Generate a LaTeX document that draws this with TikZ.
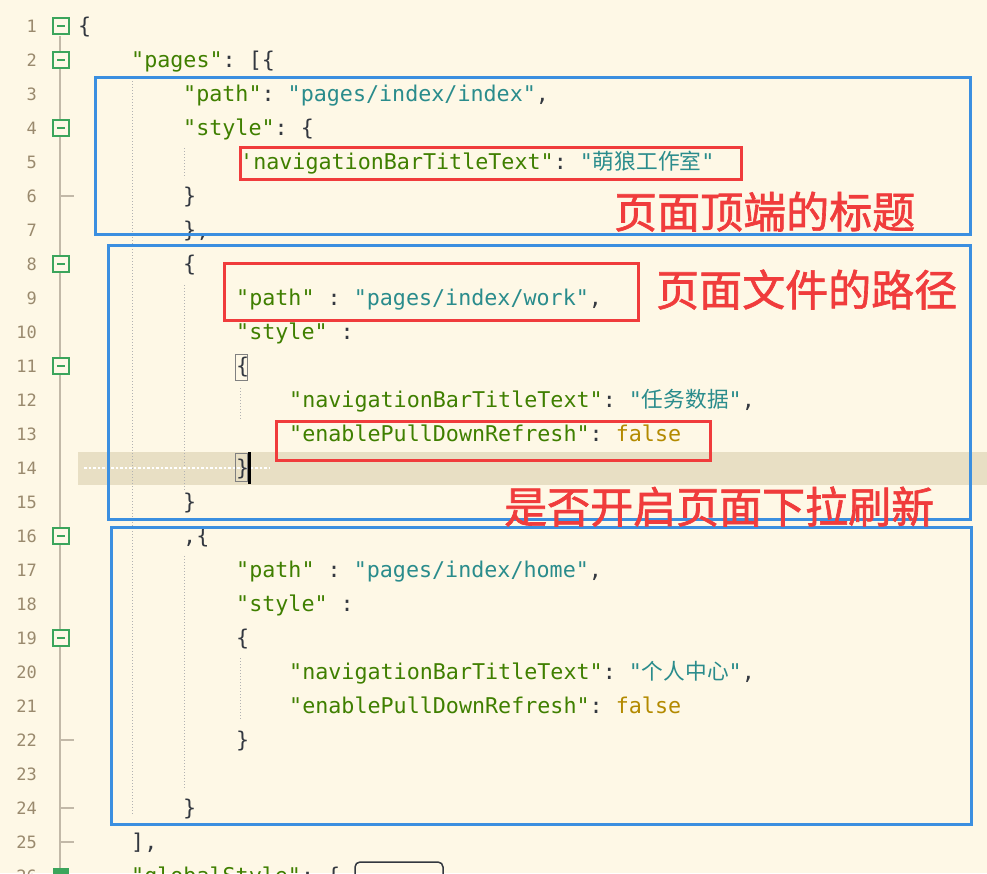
\documentclass[tikz,border=0pt]{standalone}
\usepackage{fontspec}
\setmonofont{DejaVu Sans Mono}
\newfontfamily\cjk{Noto Sans CJK SC}
\newfontfamily\cjkm{Noto Sans CJK SC}[FakeBold=1.5]
\definecolor{bg}{HTML}{FEF8E6}
\definecolor{keyc}{HTML}{3F7F00}
\definecolor{strc}{HTML}{2A8C8C}
\definecolor{falc}{HTML}{B38A00}
\definecolor{punc}{HTML}{333840}
\definecolor{numc}{HTML}{9A8A6E}
\definecolor{foldc}{HTML}{3BA55C}
\definecolor{boxb}{HTML}{3B8FE0}
\definecolor{boxr}{HTML}{F03C3C}
\definecolor{hl}{HTML}{E8DFC4}
\newcommand\K[1]{\textcolor{keyc}{#1}}
\newcommand\St[1]{\textcolor{strc}{#1}}
\newcommand\Fa[1]{\textcolor{falc}{#1}}
\newcommand\C[1]{{\cjk #1}}
\tikzset{code/.style={anchor=base west,inner sep=0,font=\ttfamily\fontsize{21.7}{21.7}\selectfont,text=punc},
 num/.style={anchor=base east,inner sep=0,font=\ttfamily\fontsize{17}{17}\selectfont,text=numc},
 bbox/.style={draw=boxb,line width=3pt},
 rbox/.style={draw=boxr,line width=3pt},
 lab/.style={anchor=base west,inner sep=0,text=boxr,font=\cjkm\fontsize{43}{43}\selectfont},
 fold/.style={draw=foldc,line width=1.3pt},
 guide/.style={draw=gray!60,dotted,line width=1pt}}
\begin{document}
\begin{tikzpicture}[x=1pt,y=-1pt]
\useasboundingbox (0,0) rectangle (987,873);
\fill[bg] (0,0) rectangle (987,873);
\fill[hl] (78,452) rectangle (987,485);
\begin{scope}
\clip (0,0) rectangle (987,873);
\draw[draw=numc!60,line width=1.3pt] (60,36)--(60,870);
\foreach \y in {196,740,808,842}{\draw[draw=numc!60,line width=1.3pt] (60,\y)--(74,\y);}
\foreach \y in {26,60,128,264,366,536,638}{\fill[bg] (53,\y-8) rectangle (69,\y+8);\draw[fold] (53,\y-8) rectangle (69,\y+8);\draw[fold] (57,\y)--(65,\y);}
\fill[foldc] (53,868) rectangle (69,884);
\foreach \n in {1,...,26}{\node[num] (n\n) at (37,{26+34*(\n-1)+6}) {\n};}
\draw[guide] (132,78)--(132,815);
\draw[guide] (184,148)--(184,178);
\draw[guide] (184,285)--(184,490);
\draw[guide] (184,556)--(184,790);
\draw[guide] (240,388)--(240,420);
\draw[guide] (240,658)--(240,720);
\draw[white,dotted,line width=2.5pt] (84,468)--(270,468);
\def\B#1{26+34*(#1-1)+7}
\node[code] (l1) at (78,{\B1}) {\{};
\node[code] (l2) at (131,{\B2}) {\K{"pages"}: [\{};
\node[code] (l3) at (183,{\B3}) {\K{"path"}: \St{"pages/index/index"},};
\node[code] (l4) at (183,{\B4}) {\K{"style"}: \{};
\node[code] (l5) at (240,{\B5}) {\K{'navigationBarTitleText"}: \St{"\C{萌狼工作室}"}};
\node[code] (l6) at (183,{\B6}) {\}};
\node[code] (l7) at (183,{\B7}) {\},};
\node[code] (l8) at (183,{\B8}) {\{};
\node[code] (l9) at (236,{\B9}) {\K{"path"} : \St{"pages/index/work"},};
\node[code] (l10) at (236,{\B{10}}) {\K{"style"} :};
\node[code] (l11) at (236,{\B{11}}) {\{};
\node[code] (l12) at (289,{\B{12}}) {\K{"navigationBarTitleText"}: \St{"\C{任务数据}"},};
\node[code] (l13) at (289,{\B{13}}) {\K{"enablePullDownRefresh"}: \Fa{false}};
\node[code] (l14) at (236,{\B{14}}) {\}};
\node[code] (l15) at (183,{\B{15}}) {\}};
\node[code] (l16) at (183,{\B{16}}) {,\{};
\node[code] (l17) at (236,{\B{17}}) {\K{"path"} : \St{"pages/index/home"},};
\node[code] (l18) at (236,{\B{18}}) {\K{"style"} :};
\node[code] (l19) at (236,{\B{19}}) {\{};
\node[code] (l20) at (289,{\B{20}}) {\K{"navigationBarTitleText"}: \St{"\C{个人中心}"},};
\node[code] (l21) at (289,{\B{21}}) {\K{"enablePullDownRefresh"}: \Fa{false}};
\node[code] (l22) at (236,{\B{22}}) {\}};
\node[code] (l24) at (183,{\B{24}}) {\}};
\node[code] (l25) at (131,{\B{25}}) {],};
\node[code] (l26) at (131,{\B{26}}) {\K{"globalStyle"}: \{};
\draw[punc,line width=1.5pt,rounded corners=5pt] (355,885)--(355,862)--(443,862)--(443,885);
\draw[gray,line width=1pt] (235,354) rectangle (247,380);
\draw[gray,line width=1pt] (235,453) rectangle (247,481);
\fill[black] (248,452) rectangle (251,484);
\end{scope}
\draw[bbox] (95,77) rectangle (970,234);
\draw[bbox] (108,245) rectangle (970,519);
\draw[bbox] (111,527) rectangle (971,824);
\draw[rbox] (240,147) rectangle (741,179);
\draw[rbox] (224,263) rectangle (638,320);
\draw[rbox] (276,421) rectangle (710,460);
\node[lab] (t1) at (614,228) {页面顶端的标题};
\node[lab] (t2) at (656,306) {页面文件的路径};
\node[lab] (t3) at (504,523) {是否开启页面下拉刷新};
\end{tikzpicture}
\end{document}
